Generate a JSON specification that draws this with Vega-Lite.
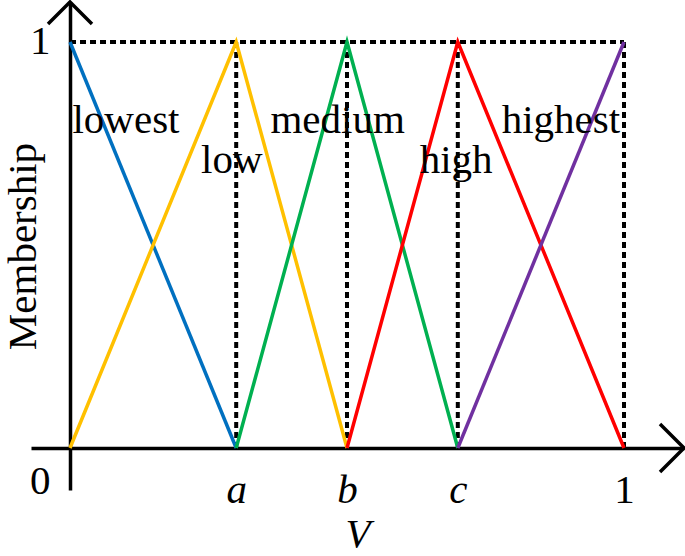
{
  "$schema": "https://vega.github.io/schema/vega-lite/v6.json",
  "width": 653,
  "height": 488,
  "autosize": {"type": "none"},
  "padding": {"left": 31, "top": 2, "right": 1, "bottom": 66},
  "background": "white",
  "config": {
    "font": "Liberation Serif",
    "view": {"stroke": null},
    "axis": {"grid": false, "ticks": false, "domainColor": "black", "domainWidth": 3.5, "labelColor": "black", "labelFontSize": 41, "labelFont": "Liberation Serif", "titleFont": "Liberation Serif", "titleFontSize": 41, "titleFontWeight": "normal", "titleColor": "black", "labelOverlap": false, "labelFlush": false}
  },
  "datasets": {
    "curves": [
      {"set": "lowest", "v": 0, "m": 1},
      {"set": "lowest", "v": 0.3, "m": 0},
      {"set": "low", "v": 0, "m": 0},
      {"set": "low", "v": 0.3, "m": 1},
      {"set": "low", "v": 0.5, "m": 0},
      {"set": "medium", "v": 0.3, "m": 0},
      {"set": "medium", "v": 0.5, "m": 1},
      {"set": "medium", "v": 0.7, "m": 0},
      {"set": "high", "v": 0.5, "m": 0},
      {"set": "high", "v": 0.7, "m": 1},
      {"set": "high", "v": 1, "m": 0},
      {"set": "highest", "v": 0.7, "m": 0},
      {"set": "highest", "v": 1, "m": 1}
    ],
    "guides": [
      {"seg": "top", "v": 0, "m": 1},
      {"seg": "top", "v": 1, "m": 1},
      {"seg": "a", "v": 0.3, "m": 0},
      {"seg": "a", "v": 0.3, "m": 1},
      {"seg": "b", "v": 0.5, "m": 0},
      {"seg": "b", "v": 0.5, "m": 1},
      {"seg": "c", "v": 0.7, "m": 0},
      {"seg": "c", "v": 0.7, "m": 1},
      {"seg": "one", "v": 1, "m": 0},
      {"seg": "one", "v": 1, "m": 1}
    ],
    "labels": [
      {"label": "lowest", "v": 0.101, "m": 0.776},
      {"label": "low", "v": 0.292, "m": 0.677},
      {"label": "medium", "v": 0.483, "m": 0.776},
      {"label": "high", "v": 0.697, "m": 0.677},
      {"label": "highest", "v": 0.886, "m": 0.776}
    ]
  },
  "layer": [
    {
      "data": {"name": "guides"},
      "mark": {"type": "line", "color": "black", "strokeWidth": 4, "strokeDash": [6, 4]},
      "encoding": {
        "x": {"field": "v", "type": "quantitative", "scale": {"domain": [-0.0704, 1.1083], "nice": false, "zero": false},
          "axis": {"values": [0.3, 0.5, 0.7, 1], "labelExpr": "datum.value == 1 ? '1' : (datum.value < 0.4 ? 'a' : (datum.value < 0.6 ? 'b' : 'c'))", "labelFontStyle": {"condition": {"test": "datum.value < 0.9", "value": "italic"}, "value": "normal"}, "offset": -42, "labelBaseline": "alphabetic", "labelPadding": 54, "title": "V", "titleFontStyle": "italic", "titlePadding": 4}},
        "y": {"field": "m", "type": "quantitative", "scale": {"domain": [-0.1034, 1.0985], "nice": false, "zero": false},
          "axis": {"values": [0, 1], "labelExpr": "datum.value < 0.5 ? '0' : '1'", "labelOffset": {"condition": {"test": "datum.value < 0.5", "value": 33}, "value": 0}, "offset": -39, "labelPadding": 20, "title": "Membership", "titlePadding": -15}},
        "detail": {"field": "seg"}
      }
    },
    {
      "data": {"name": "curves"},
      "mark": {"type": "line", "strokeWidth": 3.5},
      "encoding": {
        "x": {"field": "v", "type": "quantitative"},
        "y": {"field": "m", "type": "quantitative"},
        "color": {"field": "set", "type": "nominal", "scale": {"domain": ["lowest", "low", "medium", "high", "highest"], "range": ["#0070C0", "#FFC000", "#00B050", "#FF0000", "#7030A0"]}, "legend": null}
      }
    },
    {
      "data": {"name": "labels"},
      "mark": {"type": "text", "fontSize": 41, "font": "Liberation Serif", "align": "center", "baseline": "alphabetic", "color": "black"},
      "encoding": {
        "x": {"field": "v", "type": "quantitative"},
        "y": {"field": "m", "type": "quantitative"},
        "text": {"field": "label"}
      }
    },
    {
      "data": {"values": [{"v": 1.1083, "m": 0}]},
      "mark": {"type": "point", "shape": "M-1,-1L0,0L-1,1", "size": 2304, "filled": false, "stroke": "black", "strokeWidth": 3.5, "opacity": 1},
      "encoding": {
        "x": {"field": "v", "type": "quantitative"},
        "y": {"field": "m", "type": "quantitative"}
      }
    },
    {
      "data": {"values": [{"v": 0, "m": 1.0985}]},
      "mark": {"type": "point", "shape": "M-1,1L0,0L1,1", "size": 1936, "filled": false, "stroke": "black", "strokeWidth": 3.5, "opacity": 1},
      "encoding": {
        "x": {"field": "v", "type": "quantitative"},
        "y": {"field": "m", "type": "quantitative"}
      }
    }
  ]
}
